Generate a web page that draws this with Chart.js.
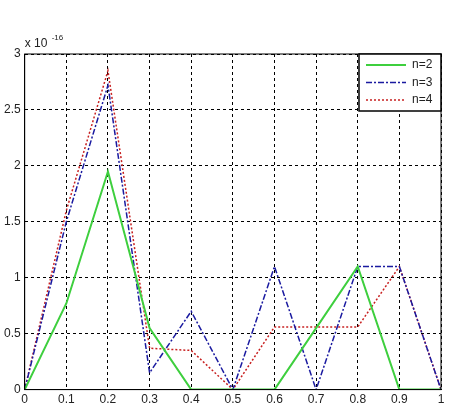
<!DOCTYPE html>
<html>
<head>
<script src="https://cdn.jsdelivr.net/npm/chart.js@4"></script>
<style>
  body { margin: 0; background: #fff; }
</style>
</head>
<body>
<canvas id="chart" width="474" height="412"></canvas>
<script>
const xs = [0, 0.1, 0.2, 0.3, 0.4, 0.5, 0.6, 0.7, 0.8, 0.9, 1]
const n2 = [0, 0.77, 1.95, 0.55, 0, 0, 0, 0.55, 1.1, 0, 0]
const n3 = [0, 1.5, 2.72, 0.15, 0.7, 0, 1.1, 0, 1.1, 1.1, 0]
const n4 = [0, 1.6, 2.85, 0.37, 0.35, 0, 0.56, 0.56, 0.56, 1.1, 0]
const xTicks = ['0', '0.1', '0.2', '0.3', '0.4', '0.5', '0.6', '0.7', '0.8', '0.9', '1']

const pts = ys => ys.map((y, i) => ({ x: xs[i], y: y }))

const exponent = {
  id: 'exponent',
  afterDraw(c) {
    const ctx = c.ctx
    const a = c.chartArea
    ctx.save()
    ctx.fillStyle = '#222'
    ctx.font = '12px Arial, "Liberation Sans"'
    ctx.fillText('x 10', a.left, a.top - 7)
    ctx.font = '8px Arial, "Liberation Sans"'
    ctx.fillText('-16', a.left + 27, a.top - 14)
    ctx.restore()
  }
}

const box = {
  id: 'box',
  afterDraw(c) {
    const ctx = c.ctx, a = c.chartArea
    ctx.save()
    ctx.strokeStyle = '#000'
    ctx.lineWidth = 1
    ctx.strokeRect(a.left, a.top, a.right - a.left, a.bottom - a.top)
    const w = 82, h = 57, x = a.right - w, y = a.top
    ctx.fillStyle = '#fff'
    ctx.fillRect(x, y, w, h)
    ctx.lineWidth = 1.5
    ctx.strokeRect(x, y, w, h)
    c.data.datasets.forEach((d, i) => {
      const ly = y + 11 + i * 17.5
      ctx.strokeStyle = d.borderColor
      ctx.lineWidth = d.borderWidth
      ctx.setLineDash(d.borderDash || [])
      ctx.beginPath(); ctx.moveTo(x + 7, ly); ctx.lineTo(x + 47, ly); ctx.stroke()
      ctx.setLineDash([])
      ctx.fillStyle = '#222'
      ctx.font = '12px Arial, "Liberation Sans"'
      ctx.textBaseline = 'middle'
      ctx.fillText(d.label, x + 53, ly)
    })
    ctx.restore()
  }
}

new Chart(document.querySelector('#chart').getContext('2d'), {
  type: 'line',
  data: {
    datasets: [
      { label: 'n=2', data: pts(n2), borderColor: '#3ecf3e', borderWidth: 2 },
      { label: 'n=3', data: pts(n3), borderColor: '#1a1aa0', borderWidth: 1.5, borderDash: [6, 2, 2, 2] },
      { label: 'n=4', data: pts(n4), borderColor: '#c82020', borderWidth: 1.5, borderDash: [2, 2] }
    ]
  },
  options: {
    responsive: false,
    animation: false,
    layout: { padding: { left: 0, right: 33, top: 54, bottom: 2 } },
    elements: { point: { radius: 0 }, line: { tension: 0 } },
    plugins: {
      legend: { display: false },
      tooltip: { enabled: false }
    },
    scales: {
      x: {
        type: 'linear', min: 0, max: 1,
        afterBuildTicks: ax => { ax.ticks = xs.map(v => ({ value: v })) },
        ticks: { callback: (v, i) => xTicks[i], color: '#222', font: { size: 12 }, maxRotation: 0, padding: 3 },
        grid: { color: '#000', drawTicks: false },
        border: { color: '#000', dash: [3, 3] }
      },
      y: {
        min: 0, max: 3,
        ticks: { stepSize: 0.5, callback: v => String(v), color: '#222', font: { size: 12 }, padding: 4 },
        grid: { color: '#000', drawTicks: false },
        border: { color: '#000', dash: [3, 3] }
      }
    }
  },
  plugins: [exponent, box]
})
</script>
</body>
</html>
